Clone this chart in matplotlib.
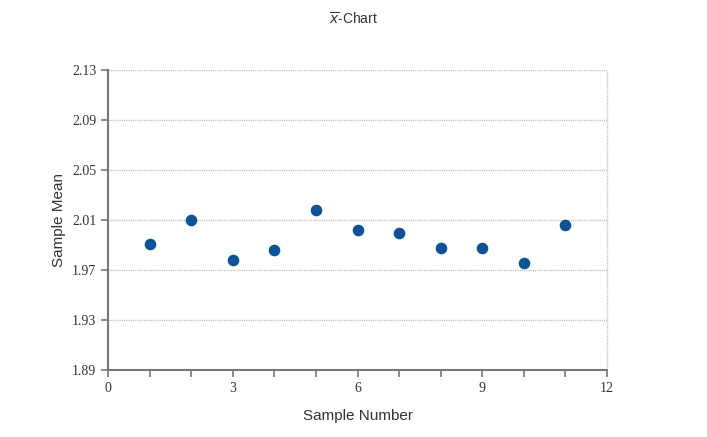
import matplotlib.pyplot as plt

# sample means
samples = [1, 2, 3, 4, 5, 6, 7, 8, 9, 10, 11]
means = [1.991, 2.010, 1.978, 1.986, 2.018, 2.002, 2.000, 1.988, 1.988, 1.976, 2.006]
y_ticks = [1.89, 1.93, 1.97, 2.01, 2.05, 2.09, 2.13]
x_ticks = [0, 3, 6, 9, 12]

fig = plt.figure(figsize=(7.07, 4.37), dpi=100)
ax = fig.add_axes([0.1528, 0.1533, 0.7058, 0.6865])

ax.scatter(samples, means, s=70, color='#0b5299', zorder=3, linewidths=0)

ax.set_xlim(0, 12)
ax.set_ylim(1.89, 2.13)
ax.set_xticks(x_ticks)
ax.set_xticks(range(13), minor=True)
ax.set_yticks(y_ticks)
ax.set_yticklabels([f"{v:.2f}" for v in y_ticks])

# dotted grid lines
for v in y_ticks[1:]:
    ax.axhline(v, color='#bbbbbb', linestyle=(0, (0.8, 0.8)), linewidth=1, zorder=1)
ax.axvline(12, color='#bbbbbb', linestyle=(0, (0.8, 0.8)), linewidth=1, zorder=1, clip_on=False)

for s in ['top', 'right']:
    ax.spines[s].set_visible(False)
for s in ['left', 'bottom']:
    ax.spines[s].set_color('#777777')
    ax.spines[s].set_linewidth(1.5)

ax.tick_params(which='both', direction='out', length=5, width=1.2, color='#777777',
               labelcolor='#333333')
for lab in ax.get_xticklabels() + ax.get_yticklabels():
    lab.set_fontfamily('Liberation Serif')
    lab.set_fontsize(10)

ax.set_xlabel('Sample Number', fontsize=11, family='Liberation Sans', color='#333333', labelpad=10)
ax.set_ylabel('Sample Mean', fontsize=11, family='Liberation Sans', color='#333333', labelpad=4)
fig.text(0.5, 0.955, r'$\overline{x}$-Chart', ha='center', va='center', fontsize=10,
         family='Liberation Sans', color='#333333')

fig.savefig('out.png', dpi=100)
